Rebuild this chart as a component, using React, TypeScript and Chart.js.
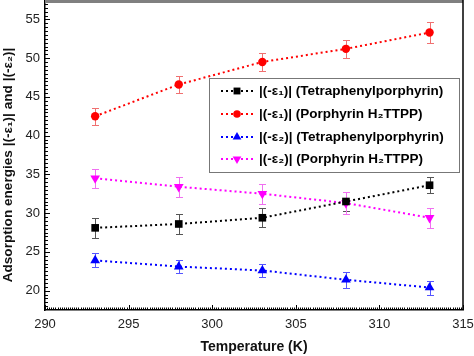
import React, { useEffect, useRef } from "react";
import Chart from "chart.js/auto";

const temperatures = [293, 298, 303, 308, 313];
const eps1Tetra = [28.1, 28.6, 29.4, 31.5, 33.6];
const eps1TetraErr = [1.3, 1.3, 1.25, 1.2, 1.0];
const eps1H2 = [42.5, 46.6, 49.5, 51.2, 53.3];
const eps1H2Err = [1.1, 1.1, 1.1, 1.2, 1.3];
const eps2Tetra = [23.9, 23.1, 22.6, 21.4, 20.4];
const eps2TetraErr = [0.9, 0.8, 0.9, 1.05, 0.9];
const eps2H2 = [34.5, 33.4, 32.5, 31.3, 29.4];
const eps2H2Err = [1.2, 1.3, 1.3, 1.4, 1.3];

const labels = [
  "|(-ε₁)| (Tetraphenylporphyrin)",
  "|(-ε₁)| (Porphyrin H₂TTPP)",
  "|(-ε₂)| (Tetraphenylporphyrin)",
  "|(-ε₂)| (Porphyrin H₂TTPP)",
];
const yTitle = "Adsorption energies |(-ε₁)| and |(-ε₂)|";
const xTitle = "Temperature (K)";
const yTicks = [20, 25, 30, 35, 40, 45, 50, 55];
const FONT = "'Liberation Sans', Arial, sans-serif";

const seriesStyle = [
  { color: "#000000", err: "#555555", style: "rect", radius: 5.4, rotation: 0 },
  { color: "#ff0000", err: "#f07070", style: "circle", radius: 4.2, rotation: 0 },
  { color: "#0000ff", err: "#5555ff", style: "triangle", radius: 5.6, rotation: 0 },
  { color: "#ff00ff", err: "#f070f0", style: "triangle", radius: 5.6, rotation: 180 },
];

function drawMarker(ctx: CanvasRenderingContext2D, style: string, r: number, rot: number, x: number, y: number, color: string) {
  ctx.save();
  ctx.fillStyle = color;
  ctx.beginPath();
  if (style === "rect") {
    const s = r * Math.SQRT1_2;
    ctx.rect(x - s, y - s, 2 * s, 2 * s);
  } else if (style === "circle") {
    ctx.arc(x, y, r, 0, Math.PI * 2);
  } else {
    const dir = rot === 180 ? -1 : 1;
    ctx.moveTo(x, y - dir * r);
    ctx.lineTo(x + r * 0.866, y + dir * r * 0.5);
    ctx.lineTo(x - r * 0.866, y + dir * r * 0.5);
    ctx.closePath();
  }
  ctx.fill();
  ctx.restore();
}

const errorBarPlugin = {
  id: "errorBars",
  beforeDatasetsDraw(chart: any) {
    const ctx = chart.ctx;
    const xs = chart.scales.x;
    const ys = chart.scales.y;
    chart.data.datasets.forEach((ds: any) => {
      ctx.save();
      ctx.strokeStyle = ds.errColor;
      ctx.lineWidth = 1;
      ds.data.forEach((p: any, i: number) => {
        const e = ds.errors[i];
        const px = Math.round(xs.getPixelForValue(p.x)) + 0.5;
        const top = Math.round(ys.getPixelForValue(p.y + e)) + 0.5;
        const bot = Math.round(ys.getPixelForValue(p.y - e)) + 0.5;
        ctx.beginPath();
        ctx.moveTo(px, top);
        ctx.lineTo(px, bot);
        ctx.moveTo(px - 3.5, top);
        ctx.lineTo(px + 3.5, top);
        ctx.moveTo(px - 3.5, bot);
        ctx.lineTo(px + 3.5, bot);
        ctx.stroke();
      });
      ctx.restore();
    });
  },
};

const framePlugin = {
  id: "frame",
  afterDraw(chart: any) {
    const ctx = chart.ctx;
    const { left, right, top, bottom } = chart.chartArea;
    const xs = chart.scales.x;
    const ys = chart.scales.y;
    ctx.save();
    ctx.fillStyle = "#808080";
    ctx.fillRect(left, 0, right - left, 3);
    ctx.strokeStyle = "#000";
    ctx.lineWidth = 1.5;
    ctx.beginPath();
    ctx.moveTo(right, top);
    ctx.lineTo(right, bottom);
    ctx.stroke();
    ctx.lineWidth = 1;
    ctx.beginPath();
    for (let v = 17.5; v <= 57.5 + 1e-6; v += 0.5) {
      const y = Math.round(ys.getPixelForValue(v)) + 0.5;
      if (y < top + 3 || y > bottom) continue;
      const major = Math.abs(v / 5 - Math.round(v / 5)) < 1e-6;
      ctx.moveTo(left, y);
      ctx.lineTo(left + (major ? 5 : 3), y);
    }
    for (let v = 290; v <= 315 + 1e-6; v += 0.125) {
      const x = Math.round(xs.getPixelForValue(v)) + 0.5;
      const major = Math.abs(v / 5 - Math.round(v / 5)) < 1e-6;
      ctx.moveTo(x, bottom);
      ctx.lineTo(x, bottom - (major ? 5 : 2.5));
    }
    ctx.stroke();

    // y title
    ctx.save();
    ctx.translate(8.5, 165);
    ctx.rotate(-Math.PI / 2);
    ctx.font = `bold 13.6px ${FONT}`;
    ctx.fillStyle = "#111";
    ctx.textAlign = "center";
    ctx.textBaseline = "middle";
    ctx.fillText(yTitle, 0, 0);
    ctx.restore();

    // legend
    const bx = 209.5, by = 78.5, bw = 250, bh = 94;
    ctx.fillStyle = "#fff";
    ctx.fillRect(bx, by, bw, bh);
    ctx.strokeStyle = "#777";
    ctx.lineWidth = 1;
    ctx.strokeRect(bx, by, bw, bh);
    const rowsY = [91, 114, 137, 159];
    ctx.font = `bold 13.5px ${FONT}`;
    ctx.textBaseline = "middle";
    chart.data.datasets.forEach((ds: any, i: number) => {
      const y = rowsY[i];
      const st = seriesStyle[i];
      ctx.strokeStyle = st.color;
      ctx.lineWidth = 1.8;
      ctx.setLineDash([2, 3]);
      ctx.beginPath();
      ctx.moveTo(221, y);
      ctx.lineTo(253, y);
      ctx.stroke();
      ctx.setLineDash([]);
      drawMarker(ctx, st.style, st.radius * 0.9, st.rotation, 237, y, st.color);
      ctx.fillStyle = "#000";
      ctx.fillText(ds.label, 259, y + 0.5);
    });
    ctx.restore();
  },
};

export default function App() {
  const ref = useRef<HTMLCanvasElement | null>(null);
  useEffect(() => {
    document.body.style.margin = "0";
    const series = [eps1Tetra, eps1H2, eps2Tetra, eps2H2];
    const errs = [eps1TetraErr, eps1H2Err, eps2TetraErr, eps2H2Err];
    const chart = new Chart(ref.current as HTMLCanvasElement, {
      type: "line",
      data: {
        datasets: series.map((s, i) => ({
          label: labels[i],
          data: temperatures.map((t, j) => ({ x: t, y: s[j] })),
          errors: errs[i],
          errColor: seriesStyle[i].err,
          borderColor: seriesStyle[i].color,
          backgroundColor: seriesStyle[i].color,
          borderWidth: 2,
          borderDash: [2, 3],
          pointStyle: seriesStyle[i].style,
          pointRadius: seriesStyle[i].radius,
          pointRotation: seriesStyle[i].rotation,
          pointBorderWidth: 0,
          pointBackgroundColor: seriesStyle[i].color,
          tension: 0,
        })) as any,
      },
      options: {
        responsive: false,
        animation: false,
        events: [],
        layout: { autoPadding: false, padding: { left: 0, right: 11, top: 0, bottom: 0 } },
        plugins: { legend: { display: false }, tooltip: { enabled: false } },
        scales: {
          x: {
            type: "linear",
            min: 290,
            max: 315,
            grid: { display: false, drawTicks: false },
            border: { display: true, color: "#000", width: 1.5 },
            ticks: { stepSize: 5, padding: 7, color: "#222", font: { family: FONT, size: 13 } },
            title: { display: true, text: xTitle, color: "#111", padding: 0, font: { family: FONT, size: 14, weight: "bold" } },
            afterFit: (s: any) => { s.height = 46; s.paddingLeft = 0; s.paddingRight = 0; },
          },
          y: {
            type: "linear",
            min: 17.5,
            max: 57.5,
            grid: { display: false, drawTicks: false },
            border: { display: true, color: "#000", width: 1.5 },
            ticks: { padding: 5, color: "#222", font: { family: FONT, size: 13 } },
            afterBuildTicks: (s: any) => { s.ticks = yTicks.map((v) => ({ value: v })); },
            afterFit: (s: any) => { s.width = 45; s.paddingTop = 0; s.paddingBottom = 0; },
          },
        },
      } as any,
      plugins: [errorBarPlugin, framePlugin],
    });
    return () => chart.destroy();
  }, []);
  return (
    <div style={{ width: 474, height: 356 }}>
      <canvas ref={ref} width={474} height={356} />
    </div>
  );
}
